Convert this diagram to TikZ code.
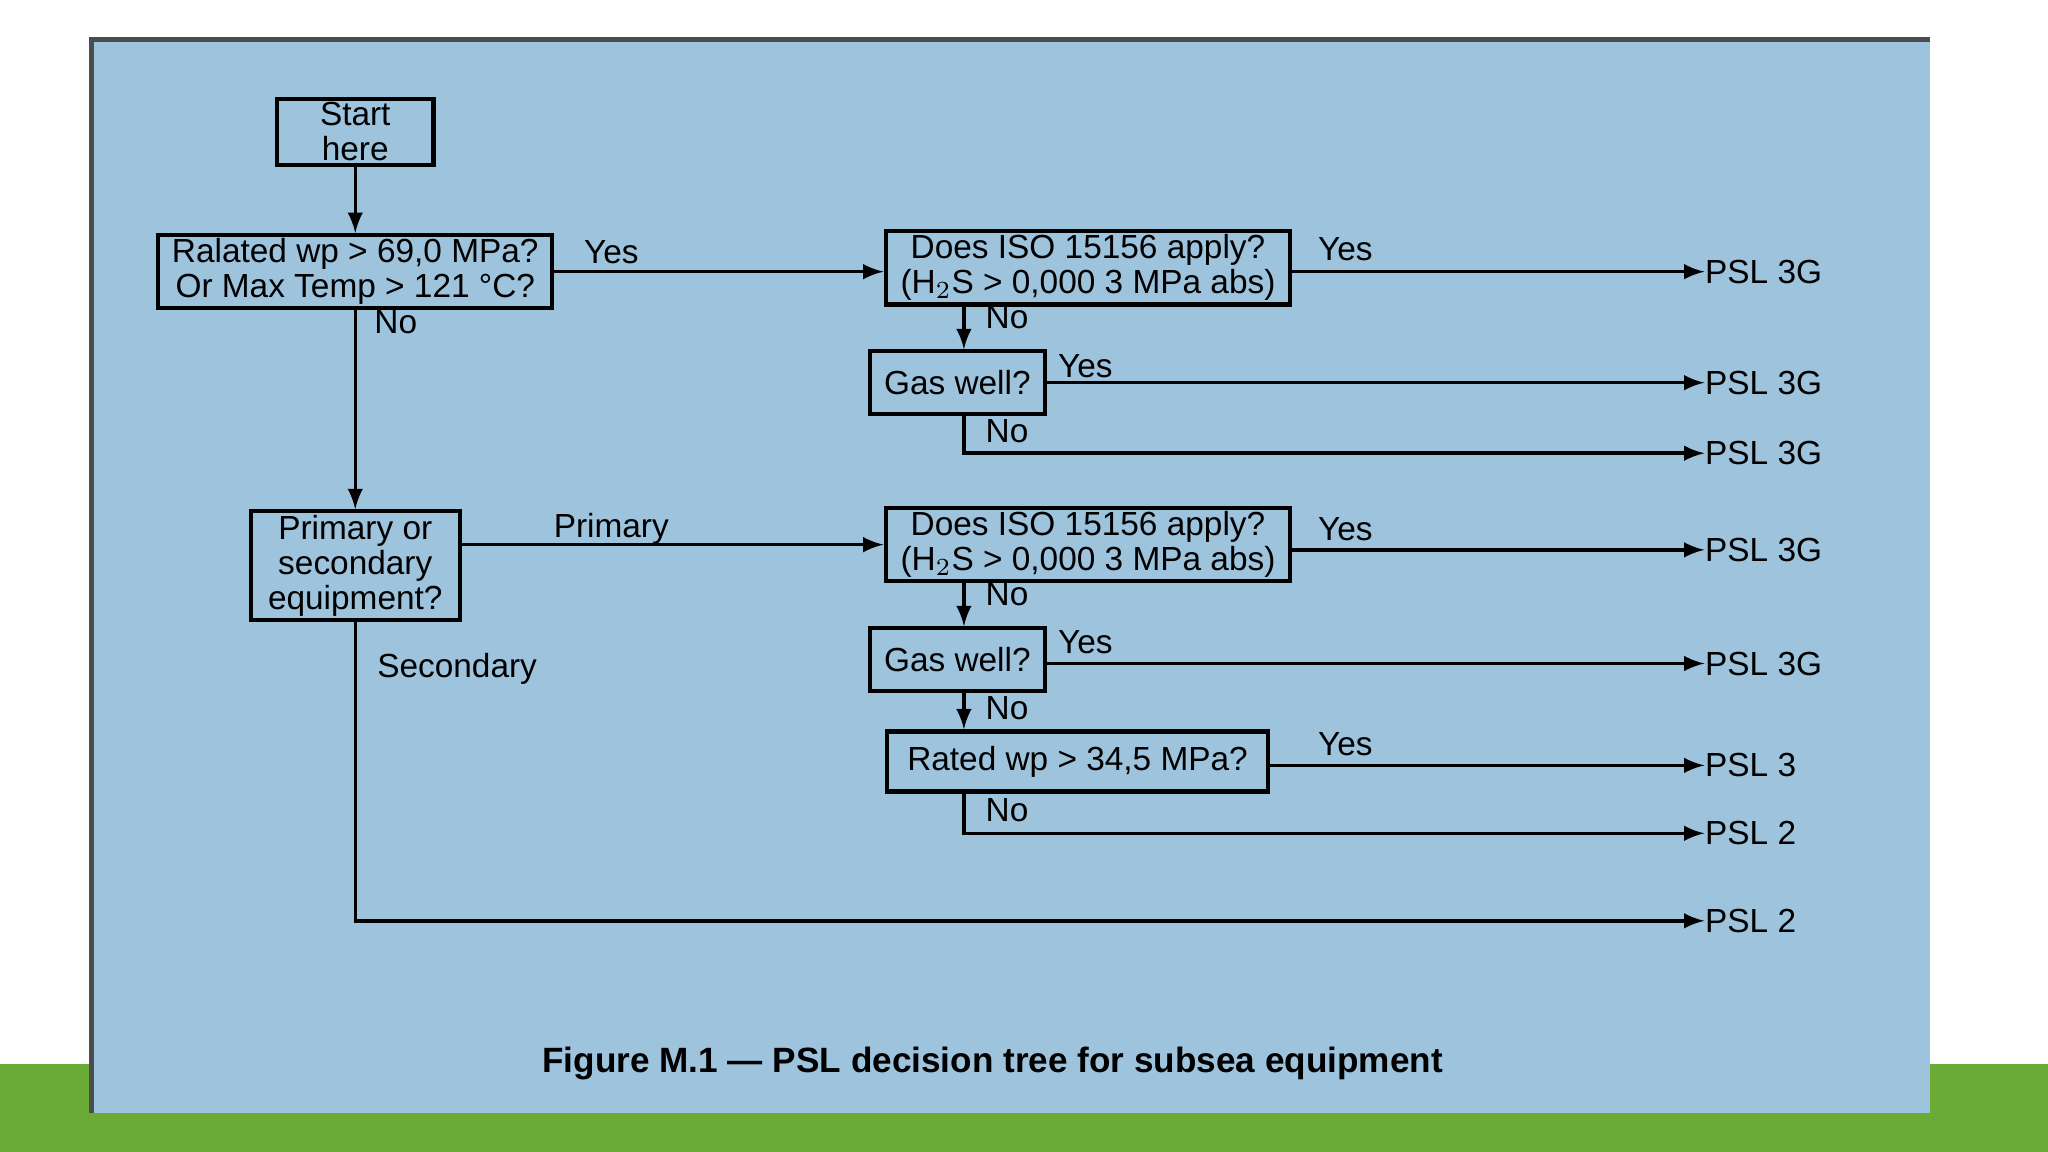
\documentclass[tikz,border=0pt]{standalone}
\usepackage{fontspec}
\setmainfont{Liberation Sans}
\definecolor{panel}{HTML}{9DC3DD}
\definecolor{band}{HTML}{6AAB35}
\begin{document}
\begin{tikzpicture}[>=latex,x=0.01306cm,y=0.01306cm,
  box/.style 2 args={draw,line width=1.2pt,align=center,font=\fontsize{9.5}{10}\selectfont,inner sep=1pt,
    minimum width={#1*0.3714pt},minimum height={#2*0.3714pt}},
  lbl/.style={font=\fontsize{9.5}{10}\selectfont},
  flow/.style={line width=1pt}]
\useasboundingbox (0,0) rectangle (1568,-882);

% Hintergrund
\fill[band] (0,-815) rectangle (1568,-882);
\fill[panel] (70,-30) rectangle (1478,-852);
\draw[black!70,line width=1.5pt] (70,-852) -- (70,-30) -- (1478,-30);

% Kaesten
\node[box={120}{48}] (start) at (272,-101) {Start\\here};
\node[box={302}{50}] (rwp)   at (272,-208) {Ralated wp > 69,0 MPa?\\Or Max Temp > 121 °C?};
\node[box={160}{68}] (prim)  at (272,-433) {Primary or\\secondary\\equipment?};
\node[box={310}{50}] (isoA)  at (833,-205) {Does ISO 15156 apply?\\(H$_2$S > 0,000 3 MPa abs)};
\node[box={134}{48}] (gasA)  at (733,-293) {Gas well?};
\node[box={310}{50}] (isoB)  at (833,-417) {Does ISO 15156 apply?\\(H$_2$S > 0,000 3 MPa abs)};
\node[box={134}{48}] (gasB)  at (733,-505) {Gas well?};
\node[box={292}{46}] (rated) at (825,-583) {Rated wp > 34,5 MPa?};

% Ergebnisse
\foreach \n/\y/\t in {pA/208/PSL 3G,pB/293/PSL 3G,pC/347/PSL 3G,pD/421/PSL 3G,pE/508/PSL 3G,pF/586/PSL 3,pG/638/PSL 2,pH/705/PSL 2}
  \node[lbl,anchor=west,inner sep=0pt] (\n) at (1305,-\y) {\t};

% Verbindungen
\coordinate (midA) at (738,0);
\draw[flow,->] (start) -- (rwp);
\draw[flow,->] (rwp.east) -- (isoA.west |- rwp.east);
\draw[flow,->] (rwp) -- (prim);
\draw[flow,->] (isoA.east |- pA) -- (pA.west);
\draw[flow,->] (isoA.south -| midA) -- (gasA.north -| midA);
\draw[flow,->] (gasA.east |- pB) -- (pB.west);
\draw[flow,->] (gasA.south -| midA) |- (pC.west);
\draw[flow,->] (prim.east |- isoB) -- (isoB.west);
\draw[flow,->] (isoB.east |- pD) -- (pD.west);
\draw[flow,->] (isoB.south -| midA) -- (gasB.north -| midA);
\draw[flow,->] (gasB.east |- pE) -- (pE.west);
\draw[flow,->] (gasB.south -| midA) -- (rated.north -| midA);
\draw[flow,->] (rated.east |- pF) -- (pF.west);
\draw[flow,->] (rated.south -| midA) |- (pG.west);
\draw[flow,->] (prim.south) |- (pH.west);

% Beschriftungen
\node[lbl] at (468,-193) {Yes};
\node[lbl] at (303,-247) {No};
\node[lbl] at (1030,-191) {Yes};
\node[lbl] at (771,-243) {No};
\node[lbl] at (831,-280) {Yes};
\node[lbl] at (771,-330) {No};
\node[lbl] at (468,-405) {Primary};
\node[lbl] at (1030,-405) {Yes};
\node[lbl] at (771,-455) {No};
\node[lbl] at (831,-492) {Yes};
\node[lbl] at (350,-512) {Secondary};
\node[lbl] at (771,-542) {No};
\node[lbl] at (1030,-570) {Yes};
\node[lbl] at (771,-620) {No};

\node[font=\bfseries\fontsize{10}{10}\selectfont] (cap) at (760,-814) {Figure M.1 — PSL decision tree for subsea equipment};
\end{tikzpicture}
\end{document}
